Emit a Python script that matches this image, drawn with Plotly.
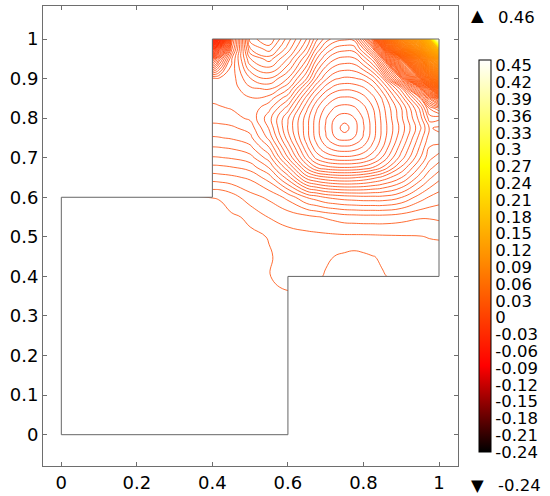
import numpy as np
import plotly.graph_objects as go

# ---- data ----
grid_x = [0.0, 0.2, 0.4, 0.42, 0.45, 0.5, 0.55, 0.6, 0.65, 0.675, 0.7, 0.725, 0.75, 0.775,
          0.8, 0.825, 0.85, 0.9, 0.95, 0.975, 1.0]
grid_y = [0.0, 0.2, 0.35, 0.4, 0.45, 0.5, 0.55, 0.6, 0.65, 0.675, 0.7, 0.725, 0.75, 0.775,
          0.8, 0.825, 0.85, 0.875, 0.9, 0.95, 0.975, 1.0]

# field in contour-step units (one unit = one drawn contour interval); rows follow grid_y
field_steps = [
    [24.7] * 21,
    [24.7] * 21,
    [24.7, 24.7, 24.7, 24.7, 24.7, 24.7, 24.65, 24.58, 24.7, 24.7, 24.7, 24.7, 24.7, 24.7, 24.7, 24.7, 24.7, 24.7, 24.7, 24.7, 24.7],
    [24.7, 24.7, 24.7, 24.7, 24.7, 24.7, 24.52, 24.3, 24.3, 24.4, 24.55, 24.68, 24.75, 24.78, 24.75, 24.68, 24.56, 24.3, 24.2, 24.2, 24.2],
    [24.7, 24.7, 24.7, 24.7, 24.7, 24.7, 24.55, 24.3, 24.2, 24.3, 24.42, 24.52, 24.7, 24.84, 24.7, 24.53, 24.4, 24.1, 24.0, 24.0, 24.0],
    [24.7, 24.7, 24.7, 24.7, 24.7, 24.65, 24.47, 23.9, 23.8, 23.78, 23.75, 23.72, 23.7, 23.7, 23.7, 23.68, 23.65, 23.6, 23.55, 23.45, 23.4],
    [24.7, 24.7, 24.7, 24.65, 24.65, 24.35, 23.45, 23.1, 22.8, 22.6, 22.4, 22.2, 22.0, 21.95, 21.9, 21.9, 21.9, 22.1, 22.4, 22.4, 22.3],
    [24.7, 24.7, 24.49, 24.47, 24.0, 22.9, 22.3, 21.2, 19.45, 19.0, 18.45, 18.2, 18.0, 17.9, 17.8, 17.8, 17.8, 18.45, 20.0, 20.6, 21.0],
    [22.0, 22.0, 22.0, 21.9, 21.75, 21.3, 20.0, 17.0, 13.0, 12.2, 11.7, 11.4, 11.3, 11.4, 11.7, 12.2, 12.8, 14.45, 17.0, 18.3, 19.2],
    [20.8, 20.8, 20.8, 20.75, 20.6, 20.1, 18.45, 14.8, 10.2, 8.54, 7.92, 7.62, 7.55, 7.62, 7.92, 8.54, 9.6, 12.7, 15.7, 17.2, 18.1],
    [19.6, 19.6, 19.6, 19.55, 19.4, 18.9, 17.0, 12.55, 8.0, 6.2, 5.3, 4.87, 4.75, 4.87, 5.3, 6.2, 7.6, 11.0, 14.45, 16.2, 17.0],
    [18.6, 18.6, 18.6, 18.55, 18.4, 17.8, 15.6, 11.2, 6.8, 4.9, 3.7, 3.0, 2.8, 3.0, 3.7, 4.9, 6.45, 10.1, 13.7, 15.6, 15.9],
    [17.6, 17.6, 17.6, 17.55, 17.4, 16.8, 14.2, 10.0, 5.95, 4.15, 2.64, 1.52, 1.1, 1.52, 2.64, 4.15, 5.85, 9.3, 13.0, 15.0, 14.8],
    [16.9, 16.9, 16.9, 16.85, 16.7, 16.1, 13.4, 9.4, 5.85, 4.0, 2.4, 1.05, 0.0, 1.05, 2.4, 4.0, 5.75, 8.9, 12.3, 14.6, 14.3],
    [16.1, 16.1, 16.1, 16.05, 15.9, 15.3, 12.9, 9.6, 5.93, 4.12, 2.6, 1.45, 1.0, 1.45, 2.6, 4.12, 5.84, 9.25, 13.0, 16.0, 15.8],
    [15.7, 15.7, 15.7, 15.6, 15.45, 15.2, 13.8, 11.0, 6.7, 4.7, 3.3, 2.35, 2.05, 2.3, 3.16, 4.45, 6.1, 9.42, 13.8, 17.6, 19.45],
    [15.3, 15.3, 15.3, 15.2, 15.05, 15.4, 15.0, 12.8, 8.0, 5.93, 4.43, 3.54, 3.3, 3.46, 4.1, 5.2, 6.6, 10.8, 16.45, 23.0, 28.0],
    [15.0, 15.0, 15.0, 15.0, 14.95, 16.3, 16.7, 14.7, 10.0, 7.64, 5.96, 4.98, 4.7, 4.82, 5.32, 6.2, 8.0, 13.0, 24.0, 35.0, 48.0],
    [14.7, 14.7, 14.7, 14.8, 14.9, 17.45, 18.45, 16.45, 12.45, 9.6, 7.7, 6.63, 6.3, 6.4, 6.74, 7.9, 10.2, 20.0, 40.0, 58.0, 75.0],
    [3.0, 3.0, 3.0, 8.0, 14.3, 20.45, 22.0, 19.45, 15.6, 12.63, 10.7, 9.56, 9.2, 9.3, 10.8, 13.0, 18.0, 42.0, 80.0, 105.0, 125.0],
    [-15.0, -15.0, -15.0, -2.0, 12.0, 22.45, 24.0, 21.0, 17.3, 14.37, 12.36, 11.21, 10.85, 10.95, 13.45, 17.45, 28.0, 70.0, 110.0, 140.0, 175.0],
    [-40.0, -40.0, -40.0, -20.0, 10.45, 24.0, 25.45, 22.0, 18.45, 15.82, 14.04, 13.02, 12.7, 12.8, 17.0, 24.0, 45.0, 95.0, 135.0, 175.0, 470.0],
]
level_base = -0.01      # value of step 0
level_step = 0.001      # contour interval

color_min = -0.24
color_max = 0.46
cbar_ticks = [0.45, 0.42, 0.39, 0.36, 0.33, 0.3, 0.27, 0.24, 0.21, 0.18, 0.15, 0.12,
              0.09, 0.06, 0.03, 0.0, -0.03, -0.06, -0.09, -0.12, -0.15, -0.18, -0.21, -0.24]
x_ticks = [0, 0.2, 0.4, 0.6, 0.8, 1]
y_ticks = [0, 0.1, 0.2, 0.3, 0.4, 0.5, 0.6, 0.7, 0.8, 0.9, 1]

outline_x = [0, 0.6, 0.6, 1, 1, 0.4, 0.4, 0, 0]
outline_y = [0, 0, 0.4, 0.4, 1, 1, 0.6, 0.6, 0]
outside_regions = [  # (x0, x1, y0, y1) parts of the grid outside the geometry
    (-0.005, 0.4, 0.6, 1.005),
    (0.6, 1.005, -0.005, 0.4),
]

# ---- figure ----
z = level_base + level_step * np.array(field_steps)

thermal = [[0.0, '#000000'], [0.22, '#ff0000'], [0.49, '#ff8c00'], [0.73, '#ffff00'], [1.0, '#ffffff']]
FONT = 'DejaVu Sans'

first_level = color_min + level_step / 2
last_level = color_max - level_step / 2

fig = go.Figure()
fig.add_trace(go.Contour(
    x=grid_x, y=grid_y, z=z,
    autocontour=False,
    contours=dict(coloring='lines', start=first_level, end=last_level,
                  size=level_step, showlabels=False),
    line=dict(width=0.8, smoothing=1.3),
    colorscale=thermal, showscale=False, hoverinfo='skip',
))

W, H = 550, 496
L, R, T, B = 43, 92, 6, 30
pw, ph = W - L - R, H - T - B
def px2paper_x(px):
    return (px - L) / pw
def px2paper_y(py):
    return (H - B - py) / ph

fig.add_trace(go.Scatter(
    x=[None], y=[None], mode='markers', showlegend=False, hoverinfo='skip',
    marker=dict(color=[color_min], colorscale=thermal, cmin=color_min, cmax=color_max,
                showscale=True,
                colorbar=dict(thickness=12, thicknessmode='pixels', len=392, lenmode='pixels',
                              x=px2paper_x(479), xanchor='left', xpad=0,
                              y=px2paper_y(256), yanchor='middle', ypad=0,
                              outlinewidth=1, outlinecolor='black',
                              tickmode='array', tickvals=cbar_ticks,
                              ticktext=[f"{v:g}" for v in cbar_ticks],
                              ticks='', tickfont=dict(family=FONT, size=16.5, color='black'))),
))

shapes = []
for (x0, x1, y0, y1) in outside_regions:
    shapes.append(dict(type='rect', xref='x', yref='y', x0=x0, x1=x1, y0=y0, y1=y1,
                       fillcolor='white', line=dict(width=0), layer='above'))
path = 'M ' + ' L '.join(f'{a},{b}' for a, b in zip(outline_x, outline_y)) + ' Z'
shapes.append(dict(type='path', xref='x', yref='y', path=path,
                   line=dict(color='#666666', width=1), layer='above'))

ann_font = dict(family=FONT, size=16.5, color='black')
annotations = [
    dict(text='▲', x=px2paper_x(477.5), y=px2paper_y(16), xref='paper', yref='paper',
         showarrow=False, font=ann_font, xanchor='center', yanchor='middle'),
    dict(text=f'{color_max:g}', x=px2paper_x(496), y=px2paper_y(18), xref='paper', yref='paper',
         showarrow=False, font=ann_font, xanchor='left', yanchor='middle'),
    dict(text='▼', x=px2paper_x(477.5), y=px2paper_y(485), xref='paper', yref='paper',
         showarrow=False, font=ann_font, xanchor='center', yanchor='middle'),
    dict(text=f'{color_min:g}', x=px2paper_x(496), y=px2paper_y(485), xref='paper', yref='paper',
         showarrow=False, font=ann_font, xanchor='left', yanchor='middle'),
]

axis_common = dict(showline=True, linecolor='#6e6e6e', linewidth=1, mirror='ticks',
                   ticks='inside', ticklen=4, tickcolor='#6e6e6e', showgrid=False, zeroline=False,
                   tickfont=dict(family=FONT, size=18, color='black'), automargin=False)

fig.update_layout(
    width=W, height=H, margin=dict(l=L, r=R, t=T, b=B, autoexpand=False),
    paper_bgcolor='white', plot_bgcolor='white',
    font=dict(family=FONT, size=18, color='black'),
    xaxis=dict(range=[-0.0485, 1.0503], tickmode='array', tickvals=x_ticks,
               ticktext=[f'{v:g}' for v in x_ticks], **axis_common),
    yaxis=dict(range=[-0.0791, 1.0834], tickmode='array', tickvals=y_ticks,
               ticktext=[f'{v:g}' for v in y_ticks], **axis_common),
    shapes=shapes, annotations=annotations, showlegend=False,
)

fig.write_html('out.html', config={'displayModeBar': False},
               post_script="document.body.style.margin='0px';")
